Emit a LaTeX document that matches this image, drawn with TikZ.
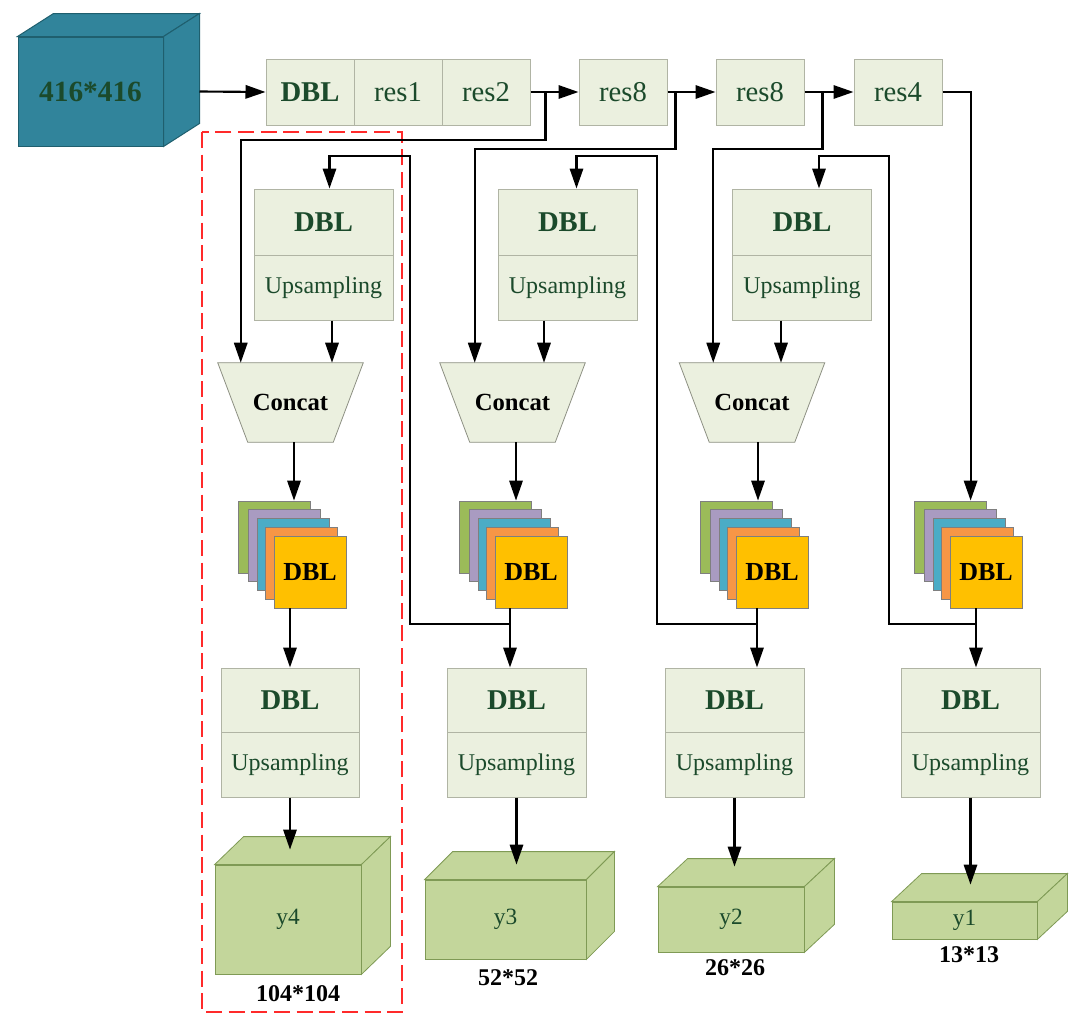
\documentclass[tikz,border=0pt]{standalone}
\usepackage{fontspec}
\setmainfont{Liberation Serif}
\usetikzlibrary{calc,arrows.meta,backgrounds}
\definecolor{boxfill}{HTML}{EBF0DF}
\definecolor{boxdraw}{HTML}{B0B4A4}
\definecolor{txtgreen}{HTML}{1B4A2B}
\definecolor{tealc}{HTML}{31849B}
\definecolor{tealdark}{HTML}{1F5F6E}
\definecolor{cubegreen}{HTML}{C3D69B}
\definecolor{cubeedge}{HTML}{7F9A55}
\definecolor{sqgreen}{HTML}{9BBB59}
\definecolor{sqpurple}{HTML}{A99BC1}
\definecolor{sqblue}{HTML}{4BACC6}
\definecolor{sqorange}{HTML}{F79646}
\definecolor{sqyellow}{HTML}{FFC000}
\definecolor{sqedge}{HTML}{7F7F7F}
\definecolor{dashred}{HTML}{FF2A2A}
\newcommand\mydblstack[2]{%
  \node[sq, fill=sqgreen]  (g#1) at (#2+36,537) {};
  \node[sq, fill=sqpurple] (p#1) at (#2+46,545) {};
  \node[sq, fill=sqblue]   (b#1) at (#2+55,554) {};
  \node[sq, fill=sqorange] (o#1) at (#2+63,563) {};
  \node[sq, fill=sqyellow, font=\fontsize{19.5}{22}\selectfont\bfseries] (s#1) at (#2+72,572) {DBL};
}
\newcommand\mycubefaces[3]{% node, dx, dy
  \filldraw[fill=cubegreen, draw=cubeedge, line width=0.6pt]
    (#1.north west) -- ($(#1.north west)+(#2,-#3)$) -- ($(#1.north east)+(#2,-#3)$) -- (#1.north east) -- cycle;
  \filldraw[fill=cubegreen, draw=cubeedge, line width=0.6pt]
    (#1.north east) -- ($(#1.north east)+(#2,-#3)$) -- ($(#1.south east)+(#2,-#3)$) -- (#1.south east) -- cycle;
}
\begin{document}
\begin{tikzpicture}[x=0.75pt,y=-0.75pt,
  wh/.style 2 args={minimum width={#1*0.75pt}, minimum height={#2*0.75pt}},
  box/.style={draw=boxdraw, fill=boxfill, line width=0.75pt, inner sep=0pt, text=txtgreen},
  bigbold/.style={font=\fontsize{21.5}{24}\selectfont\bfseries},
  big/.style={font=\fontsize{21.5}{24}\selectfont},
  mid/.style={font=\fontsize{18}{20}\selectfont},
  midbold/.style={font=\fontsize{18.5}{20}\selectfont\bfseries},
  sq/.style={draw=sqedge, line width=0.6pt, wh={72}{72}, inner sep=0pt, text=black},
  gcube/.style={draw=cubeedge, fill=cubegreen, line width=0.6pt, inner sep=0pt, text=txtgreen, font=\fontsize{17.5}{19}\selectfont},
  sizelbl/.style={font=\fontsize{18}{20}\selectfont\bfseries, text=black},
  conn/.style={line width=1.6pt, black},
  arr/.style={conn, -{Triangle[length=15pt,width=10pt]}},
]
\useasboundingbox (0,0) rectangle (1090,1029);

% dashed highlight
\draw[dashred, line width=1.5pt, dash pattern=on 12pt off 5pt] (202,132) rectangle (402,1012);

% input cube
\node[draw=tealdark, fill=tealc, line width=0.75pt, inner sep=0pt, wh={145}{109},
      text=txtgreen, font=\fontsize{22}{24}\selectfont\bfseries] (cube0) at (90.5,91.5) {416*416};
\filldraw[fill=tealc, draw=tealdark, line width=0.75pt]
  (cube0.north west) -- ($(cube0.north west)+(36,-23)$) -- ($(cube0.north east)+(36,-23)$) -- (cube0.north east) -- cycle;
\filldraw[fill=tealc, draw=tealdark, line width=0.75pt]
  (cube0.north east) -- ($(cube0.north east)+(36,-23)$) -- ($(cube0.south east)+(36,-23)$) -- (cube0.south east) -- cycle;

% backbone
\node[box, wh={88}{66}, bigbold] (dbl0) at (310,92) {DBL};
\node[box, wh={88}{66}, big] (res1) at (398,92) {res1};
\node[box, wh={88}{66}, big] (res2) at (486,92) {res2};
\node[box, wh={88}{66}, big] (res8a) at (623,92) {res8};
\node[box, wh={88}{66}, big] (res8b) at (760,92) {res8};
\node[box, wh={88}{66}, big] (res4) at (898,92) {res4};

% DBL + Upsampling modules (upper)
\node[box, wh={139}{66}, bigbold] (ud1) at (323.5,222) {DBL};
\node[box, wh={139}{65}, mid] (uu1) at (323.5,287.5) {Upsampling};
\node[box, wh={139}{66}, bigbold] (ud2) at (567.5,222) {DBL};
\node[box, wh={139}{65}, mid] (uu2) at (567.5,287.5) {Upsampling};
\node[box, wh={139}{66}, bigbold] (ud3) at (802,222) {DBL};
\node[box, wh={139}{65}, mid] (uu3) at (802,287.5) {Upsampling};

% Concat
\node[wh={145}{79}, inner sep=0pt, midbold] (c1) at (290.5,402.5) {Concat};
\node[wh={145}{79}, inner sep=0pt, midbold] (c2) at (512.5,402.5) {Concat};
\node[wh={145}{79}, inner sep=0pt, midbold] (c3) at (752,402.5) {Concat};
\begin{scope}[on background layer]
\foreach \c in {c1,c2,c3}{
  \filldraw[fill=boxfill, draw=boxdraw!80!black, line width=0.6pt]
    (\c.north west) -- (\c.north east) -- ($(\c.south east)+(-30,0)$) -- ($(\c.south west)+(30,0)$) -- cycle;
}
\end{scope}

% stacks
\mydblstack{1}{238}
\mydblstack{2}{459}
\mydblstack{3}{700}
\mydblstack{4}{914}

% lower modules
\node[box, wh={138}{64}, bigbold] (ld1) at (290,700) {DBL};
\node[box, wh={138}{65}, mid] (lu1) at (290,764.5) {Upsampling};
\node[box, wh={139}{64}, bigbold] (ld2) at (516.5,700) {DBL};
\node[box, wh={139}{65}, mid] (lu2) at (516.5,764.5) {Upsampling};
\node[box, wh={139}{64}, bigbold] (ld3) at (734.5,700) {DBL};
\node[box, wh={139}{65}, mid] (lu3) at (734.5,764.5) {Upsampling};
\node[box, wh={139}{64}, bigbold] (ld4) at (970.5,700) {DBL};
\node[box, wh={139}{65}, mid] (lu4) at (970.5,764.5) {Upsampling};

% output cubes
\node[gcube, wh={146}{109}] (y4) at (288,919.5) {y4};
\mycubefaces{y4}{29}{28}
\node[gcube, wh={161}{79}] (y3) at (505.5,919.5) {y3};
\mycubefaces{y3}{28}{28}
\node[gcube, wh={146}{65}] (y2) at (731,919.5) {y2};
\mycubefaces{y2}{30}{28}
\node[gcube, wh={145}{37}] (y1) at (964.5,920.5) {y1};
\mycubefaces{y1}{30}{28}

\node[sizelbl] (l4) at (298,994) {104*104};
\node[sizelbl] (l3) at (508,978) {52*52};
\node[sizelbl] (l2) at (735,968) {26*26};
\node[sizelbl] (l1) at (969,955) {13*13};

% ---------- connectors ----------
\draw[arr] ($(cube0.east)+(36,0)$) -- (dbl0.west);
\draw[arr] (res2.east) -- (res8a.west);
\draw[arr] (res8a.east) -- (res8b.west);
\draw[arr] (res8b.east) -- (res4.west);

% skip connections from backbone to concat
\coordinate (bp1) at ($(res2.east)+(15,0)$);
\coordinate (bp2) at ($(res8a.east)+(8,0)$);
\coordinate (bp3) at ($(res8b.east)+(18,0)$);
\coordinate (c1l) at ($(c1.north west)+(23,0)$);
\coordinate (c2l) at ($(c2.north west)+(35,0)$);
\coordinate (c3l) at ($(c3.north west)+(34,0)$);
\draw[arr] (bp1) -- ++(0,48) -| (c1l);
\draw[arr] (bp2) -- ++(0,57) -| (c2l);
\draw[arr] (bp3) -- ++(0,57) -| (c3l);
\coordinate (g4in) at ($(g4.north west)+(57,0)$);
\draw[arr] (res4.east) -| (g4in);

% upsampling -> concat
\coordinate (u1o) at ($(uu1.south)+(8.5,0)$);
\coordinate (u2o) at ($(uu2.south)+(-23.5,0)$);
\coordinate (u3o) at ($(uu3.south)+(-21,0)$);
\draw[arr] (u1o) -- (u1o |- c1.north);
\draw[arr] (u2o) -- (u2o |- c2.north);
\draw[arr] (u3o) -- (u3o |- c3.north);

% concat -> stacks
\coordinate (c1o) at ($(c1.south)+(3.5,0)$);
\coordinate (c2o) at ($(c2.south)+(3.5,0)$);
\coordinate (c3o) at ($(c3.south)+(6,0)$);
\draw[arr] (c1o) -- (c1o |- g1.north);
\draw[arr] (c2o) -- (c2o |- g2.north);
\draw[arr] (c3o) -- (c3o |- g3.north);

% stacks -> lower modules
\coordinate (s1o) at ($(s1.south)+(-20,0)$);
\coordinate (j2) at ($(s2.south)+(-21,16)$);
\coordinate (j3) at ($(s3.south)+(-15,16)$);
\coordinate (j4) at ($(s4.south)+(-10,16)$);
\draw[arr] (s1o) -- (s1o |- ld1.north);
\draw[arr] (j2 |- s2.south) -- (j2 |- ld2.north);
\draw[arr] (j3 |- s3.south) -- (j3 |- ld3.north);
\draw[arr] (j4 |- s4.south) -- (j4 |- ld4.north);

% upsampling feeds (from deeper scale to shallower)
\coordinate (f1) at ($(ud1.north west)+(76,0)$);
\coordinate (f2) at ($(ud2.north west)+(79,0)$);
\coordinate (f3) at ($(ud3.north west)+(87,0)$);
\draw[arr] (j2) -| (410,156) -| (f1);
\draw[arr] (j3) -| (657,156) -| (f2);
\draw[arr] (j4) -| (889,156) -| (f3);

% lower modules -> output cubes
\coordinate (t4) at (lu1.south |- y4.north);
\coordinate (t3) at (lu2.south |- y3.north);
\coordinate (t2) at (lu3.south |- y2.north);
\coordinate (t1) at (lu4.south |- y1.north);
\draw[arr] (lu1.south) -- ($(t4)+(0,-15)$);
\draw[arr] (lu2.south) -- ($(t3)+(0,-15)$);
\draw[arr] (lu3.south) -- ($(t2)+(0,-20)$);
\draw[arr] (lu4.south) -- ($(t1)+(0,-17)$);
\end{tikzpicture}
\end{document}
